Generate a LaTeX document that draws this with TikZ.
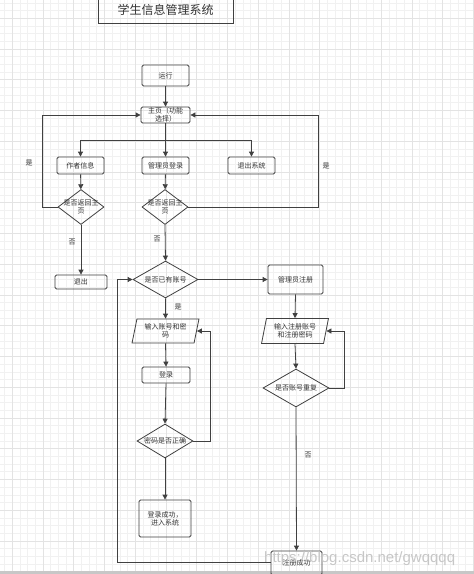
\documentclass[tikz,border=0pt]{standalone}
\usepackage{fontspec}
\newfontfamily\cjk{Noto Sans CJK SC}
\newfontfamily\wmfont{Liberation Sans}
\usetikzlibrary{shapes.geometric,arrows.meta}
\definecolor{lc}{HTML}{404040}
\definecolor{tc}{HTML}{333333}
\definecolor{gmin}{HTML}{F1F1F1}
\definecolor{gmaj}{HTML}{E3E3E3}
\begin{document}
\begin{tikzpicture}[x=1pt,y=-1pt,
  every node/.style={font=\cjk\fontsize{7}{8}\selectfont, text=tc},
  box/.style={draw=lc, line width=0.8pt, rounded corners=1.5pt, inner sep=0pt, align=center},
  dia/.style={draw=lc, line width=0.8pt, diamond, inner sep=0pt},
  para/.style={draw=lc, line width=0.8pt, trapezium, trapezium left angle=76, trapezium right angle=104, inner sep=0pt, align=center, trapezium stretches=true},
  arr/.style={draw=lc, line width=0.8pt, -{Triangle[length=5pt,width=5pt]}},
  ln/.style={draw=lc, line width=0.8pt},
  lab/.style={align=center, text=tc}
]
\useasboundingbox (0,0) rectangle (474,574);
\fill[white] (0,0) rectangle (474,574);
% grid
\foreach \i in {0,...,61} \draw[gmin, line width=0.7pt] ({4.5625+\i*7.6875},0) -- ({4.5625+\i*7.6875},574);
\foreach \i in {0,...,74} \draw[gmin, line width=0.7pt] (0,{2.875+\i*7.6875}) -- (474,{2.875+\i*7.6875});
\foreach \i in {0,...,15} \draw[gmaj, line width=0.8pt] ({12.25+\i*30.75},0) -- ({12.25+\i*30.75},574);
\foreach \i in {0,...,18} \draw[gmaj, line width=0.8pt] (0,{18.25+\i*30.75}) -- (474,{18.25+\i*30.75});
\fill[black!22] (0,571) rectangle (474,574);

% title
\node[draw=lc, line width=0.8pt, minimum width=135pt, minimum height=27pt, inner sep=0pt, font=\cjk\fontsize{12}{14}\selectfont] (title) at (165.5,10) {\raisebox{-2pt}{学生信息管理系统}};

% nodes
\node[box, minimum width=47pt, minimum height=21pt] (yx) at (165.5,75.5) {运行};
\node[box, minimum width=49pt, minimum height=16pt] (zy) at (165.5,115) {主页（功能\\选择）};
\node[box, minimum width=47pt, minimum height=17pt] (zz) at (80.5,165.5) {作者信息};
\node[box, minimum width=47pt, minimum height=17pt] (gl) at (165.5,165.5) {管理员登录};
\node[box, minimum width=47pt, minimum height=17pt] (tc) at (251.5,165.5) {退出系统};
\node[dia, minimum width=46pt, minimum height=35pt, label={[lab]center:{是否返回主\\页}}] (d1) at (81,207) {};
\node[dia, minimum width=46pt, minimum height=35pt, label={[lab]center:{是否返回主\\页}}] (d2) at (165,207) {};
\node[box, minimum width=52pt, minimum height=14pt] (tu) at (81,282) {退出};
\node[dia, minimum width=65pt, minimum height=37pt, label={[lab]center:{是否已有账号}}] (d3) at (165.5,279.5) {};
\node[box, minimum width=55pt, minimum height=29pt] (reg) at (295.5,279.5) {管理员注册};
\node[para, minimum width=67pt, minimum height=24pt] (in1) at (165.5,331) {输入账号和密\\码};
\node[box, minimum width=48pt, minimum height=16pt] (dl) at (166,375) {登录};
\node[dia, minimum width=56pt, minimum height=34pt, label={[lab]center:{密码是否正确}}] (d4) at (165,441) {};
\node[box, minimum width=52pt, minimum height=37pt] (ok) at (165,518.5) {登录成功，\\进入系统};
\node[para, minimum width=67pt, minimum height=25pt] (in2) at (295,331) {输入注册账号\\和注册密码};
\node[dia, minimum width=66pt, minimum height=38pt, label={[lab]center:{是否账号重复}}] (d5) at (296,388) {};
\node[box, minimum width=51pt, minimum height=24pt] (rs) at (296.5,563) {注册成功};

% labels
\node (s1) at (29,163) {是};
\node (s2) at (326,166) {是};
\node (n1) at (72,242) {否};
\node (n2) at (157,239) {否};
\node (s3) at (178,307) {是};
\node (n3) at (308,455) {否};

% connectors
\draw[arr] (yx) -- (zy);
\coordinate (br) at (165.5,140);
\draw[ln] (zy.south) -- (br);
\draw[arr] (br) -- (gl.north);
\draw[arr] (br) -| (zz.north);
\draw[arr] (br) -| (tc.north);
\draw[arr] (zz) -- (d1);
\draw[arr] (gl) -- (d2);
\coordinate (lL) at (42,207);
\draw[arr] (d1.west) -- (lL) |- (zy.west);
\coordinate (lR) at (318,207);
\draw[arr] (d2.east) -- (lR) |- (zy.east);
\draw[arr] (d1.south) -- (tu.north);
\draw[arr] (d2.south) -- (d3.north);
\draw[arr] (d3.east) -- (reg.west);
\draw[arr] (d3.south) -- (in1.north);
\draw[arr] (in1.south) -- (dl.north);
\draw[arr] (dl.south) -- (d4.north);
\coordinate (l4) at (210,441);
\draw[arr] (d4.east) -- (l4) |- (in1.east);
\draw[arr] (d4.south) -- (ok.north);
\draw[arr] (reg.south) -- (in2.north);
\draw[arr] (in2.south) -- (d5.north);
\coordinate (l5) at (344,388);
\draw[arr] (d5.east) -- (l5) |- (in2.east);
\draw[arr] (d5.south) -- (rs.north);
\coordinate (l6) at (117,562);
\draw[arr] (rs.west |- l6) -- (l6) |- (d3.west);

% watermark
\node[font=\wmfont\fontsize{15}{15}\selectfont, text=black!22, anchor=base west, inner sep=0pt] (wm) at (264,562) {https://blog.csdn.net/gwqqqq};
\end{tikzpicture}
\end{document}
